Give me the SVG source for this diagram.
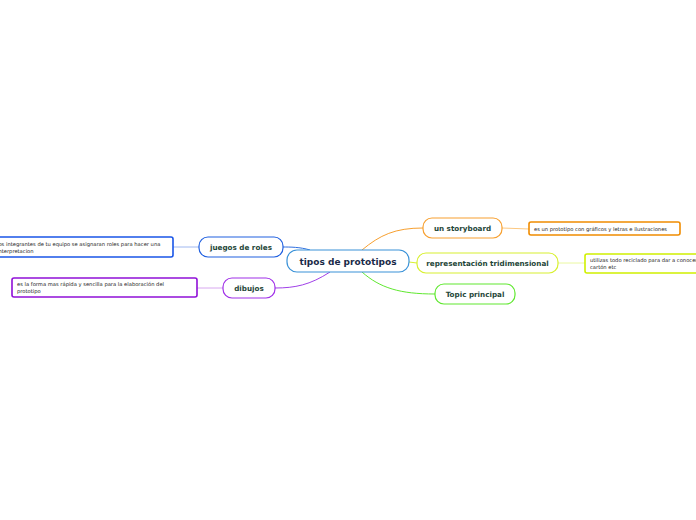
<svg xmlns="http://www.w3.org/2000/svg" width="696" height="520" viewBox="0 0 696 520">
<style>
text{font-family:"DejaVu Sans",Verdana,sans-serif;}
.t{font-size:7.2px;font-weight:bold;fill:#1e4638;text-anchor:middle}
.n{font-size:5.2px;fill:#222}
.c{fill:none;stroke-width:1}
rect{fill:#fff}
</style>
<rect width="696" height="520" fill="#fff"/>
<g id="connectors">
<path class="c" stroke="#f7a030" d="M362,250 C380,235 395,228 423,228"/>
<path class="c" stroke="#d8f030" d="M409,262 L417,263"/>
<path class="c" stroke="#60e830" d="M362,272 C380,288 400,294 435,294"/>
<path class="c" stroke="#3070e0" d="M310,250 C300,247 290,247 283,247"/>
<path class="c" stroke="#a040e8" d="M330,272 C310,285 295,288 275,288"/>
<path class="c" stroke="#fcc880" d="M502,228 L529,229"/>
<path class="c" stroke="#eaf8a0" d="M558,263 L585,263"/>
<path class="c" stroke="#a0b8f0" d="M199,247 L173,247"/>
<path class="c" stroke="#d8a8f0" d="M223,288 L197,288"/>
</g>
<g id="central"><rect x="287" y="250" width="122" height="22" rx="10" stroke="#3a92d8" stroke-width="1.2"/><text x="348" y="264.5" class="t" style="font-size:9px;fill:#1a2a48">tipos de prototipos</text></g>
<g id="storyboard"><rect x="423" y="218" width="79" height="20" rx="9" stroke="#f7a030" stroke-width="1.2"/><text x="462.5" y="231" class="t">un storyboard</text></g>
<g id="storyboard-note"><rect x="529" y="222" width="151" height="13" rx="2" stroke="#f08c00" stroke-width="1.6"/><text x="534" y="231" class="n">es un prototipo con gráficos y letras e ilustraciones</text></g>
<g id="tridimensional"><rect x="417" y="253" width="141" height="20" rx="9" stroke="#d8f030" stroke-width="1.2"/><text x="487.5" y="266" class="t">representación tridimensional</text></g>
<g id="tridimensional-note"><rect x="585" y="254" width="120" height="19" rx="2" stroke="#d0f000" stroke-width="1.6"/><text x="590" y="262" class="n">utilizas todo reciclado para dar a conocer</text><text x="590" y="269" class="n">cartón etc</text></g>
<g id="topic"><rect x="435" y="284" width="80" height="20" rx="9" stroke="#60e830" stroke-width="1.2"/><text x="475" y="297" class="t">Topic principal</text></g>
<g id="juegos"><rect x="199" y="237" width="84" height="20" rx="9" stroke="#2060e0" stroke-width="1.2"/><text x="241" y="250" class="t">juegos de roles</text></g>
<g id="juegos-note"><rect x="-5" y="237" width="178" height="20" rx="2" stroke="#1a56e8" stroke-width="1.6"/><text x="-3" y="245.5" class="n">los integrantes de tu equipo se asignaran roles para hacer una</text><text x="-3" y="252.5" class="n">interpretacion</text></g>
<g id="dibujos"><rect x="223" y="278" width="52" height="20" rx="9" stroke="#a030e8" stroke-width="1.2"/><text x="249" y="291" class="t">dibujos</text></g>
<g id="dibujos-note"><rect x="12" y="278" width="185" height="19" rx="2" stroke="#9010d8" stroke-width="1.6"/><text x="17" y="286" class="n">es la forma mas rápida y sencilla para la elaboración del</text><text x="17" y="293" class="n">prototipo</text></g>
</svg>
